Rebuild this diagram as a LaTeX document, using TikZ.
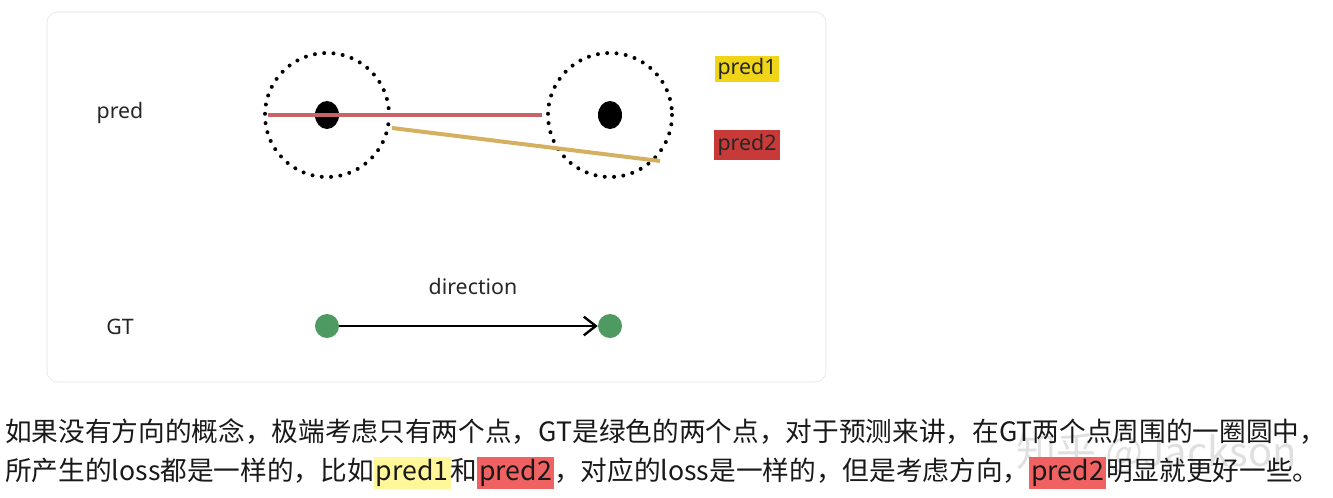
\documentclass[tikz,border=0pt]{standalone}
\usepackage{fontspec}
\usetikzlibrary{arrows.meta}
\setmainfont{Noto Sans}
\newfontfamily\cjk{Noto Sans CJK SC}
\definecolor{redline}{HTML}{C86468}
\definecolor{yelline}{HTML}{D4B060}
\definecolor{gtgreen}{HTML}{4E9A62}
\definecolor{pyel}{HTML}{F0D418}
\definecolor{pred}{HTML}{C83A38}
\definecolor{hyel}{HTML}{FFF79A}
\definecolor{hred}{HTML}{F06262}
\begin{document}
\begin{tikzpicture}[x=0.75pt,y=-0.75pt,
  lbl/.style={font=\fontsize{16}{19}\selectfont,text=black!85},
  ring/.style={draw,line width=3pt,dash pattern=on 0pt off 7pt,line cap=round},
  gtdot/.style={circle,fill=gtgreen,minimum size=18pt,inner sep=0}]
\useasboundingbox (0,0) rectangle (1333,497);
\draw[black!12,rounded corners=8pt] (47,12) rectangle (826,382);
\draw[ring] (327,115) circle (62);
\draw[ring] (610,115) circle (62);
\fill (327,115) ellipse (12 and 14);
\fill (610,115) ellipse (12 and 14);
\coordinate (r1) at (268,115); \coordinate (r2) at (542,115);
\coordinate (y1) at (392,128); \coordinate (y2) at (660,161);
\draw[redline,line width=3pt] (r1) -- (r2);
\draw[yelline,line width=3pt] (y1) -- (y2);
\node[lbl] (pred) at (120,113) {pred};
\node[lbl] (gt) at (120,327) {GT};
\node[lbl] (dir) at (473,286) {direction};
\node[gtdot] (g1) at (327,326) {};
\node[gtdot] (g2) at (610,326) {};
\draw[-{Straight Barb[length=9pt,width=14pt]},line width=1.8pt] (g1) -- (g2);
\node[lbl,fill=pyel,inner sep=2pt] (p1) at (747,69) {pred1};
\node[lbl,fill=pred,inner sep=3pt] (p2) at (747,145) {pred2};
\node[font=\cjk\fontsize{30}{32}\selectfont,text=black!12,anchor=west] (wm) at (1012,453) {知乎 @Jackson};
\begin{scope}[every node/.style={anchor=west,inner sep=0,font=\cjk\fontsize{20}{22}\selectfont,text=black!90}]
\node (l1) at (5,431) {如果没有方向的概念，极端考虑只有两个点，GT是绿色的两个点，对于预测来讲，在GT两个点周围的一圈圆中，};
\node (l2) at (5,473) {所产生的loss都是一样的，比如\fboxsep=1.5pt\colorbox{hyel}{pred1}和\colorbox{hred}{pred2}，对应的loss是一样的，但是考虑方向，\colorbox{hred}{pred2}明显就更好一些。};
\end{scope}
\end{tikzpicture}
\end{document}
